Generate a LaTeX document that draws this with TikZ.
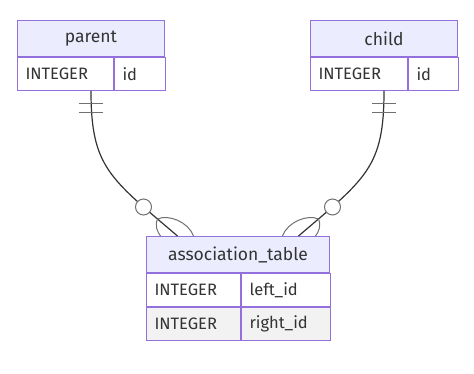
\documentclass[tikz,border=0pt]{standalone}
\usepackage{fontspec}
\setmainfont{Fira Sans}
\usetikzlibrary{positioning,calc}
\definecolor{lilac}{HTML}{9370DB}
\definecolor{mist}{HTML}{ECECFF}
\definecolor{stripe}{HTML}{F2F2F2}
\definecolor{ink}{HTML}{333333}
\definecolor{slate}{HTML}{707070}
\tikzset{
  head/.style={draw=lilac,fill=mist,line width=1pt,minimum width=#1,minimum height=36pt,
    inner sep=0pt,anchor=north west,text=ink,font=\fontsize{17.5}{20}\selectfont},
  cell/.style={draw=lilac,fill=white,line width=1pt,text width=#1,align=left,
    minimum height=33pt,inner xsep=8pt,inner ysep=0pt,anchor=north west,text=ink,
    font=\fontsize{16.5}{19}\selectfont},
  rel/.style={draw=ink,line width=1.2pt},
  endline/.style={draw=slate,line width=1pt},
  % relationship ends
  pics/onlyone/.style={code={
    \draw[endline] (-12,13) -- (12,13) (-12,22) -- (12,22);
  }},
  pics/zeromany/.style={code={
    \draw[endline] (-20,-17) .. controls (-23,-10) and (-20,-4) .. (-17,0);
    \draw[endline] (-20,-17) .. controls (-9,-22) and (11,-14) .. (16,0);
    \draw[endline,fill=white] (-34,-29) circle (8pt);
  }},
}
\begin{document}
\begin{tikzpicture}[x=1pt,y=-1pt]
  \useasboundingbox (0,0) rectangle (474,374);
  % parent
  \node[head=147pt] (parent) at (17,20) {parent};
  \node[cell=80pt] (ptype) at (parent.south west) {INTEGER};
  \node[cell=35pt] (pname) at (ptype.north east) {id};
  % child
  \node[head=147pt] (child) at (310,20) {child};
  \node[cell=81pt] (ctype) at (child.south west) {INTEGER};
  \node[cell=34pt] (cname) at (ctype.north east) {id};
  % association_table
  \node[head=183pt] (assoc) at (146,236) {association\_table};
  \node[cell=78pt] (atype1) at (assoc.south west) {INTEGER};
  \node[cell=73pt] (aname1) at (atype1.north east) {left\_id};
  \node[cell=78pt,fill=stripe] (atype2) at (atype1.south west) {INTEGER};
  \node[cell=73pt,fill=stripe] (aname2) at (atype2.north east) {right\_id};
  % relationships
  \coordinate (pa) at (parent.center |- ptype.south);
  \coordinate (ca) at (child.center |- ctype.south);
  \coordinate (pf) at ($(assoc.north)+(-60.5,0)$);
  \coordinate (cf) at ($(assoc.north)+(60.5,0)$);
  \draw[rel] (pa) .. controls +(0,76) and +(-68,-58) .. (pf);
  \draw[rel] (ca) .. controls +(0,76) and +(68,-58) .. (cf);
  \pic at (pa) {onlyone};
  \pic at (ca) {onlyone};
  \pic at (pf) {zeromany};
  \pic[xscale=-1] at (cf) {zeromany};
\end{tikzpicture}
\end{document}
